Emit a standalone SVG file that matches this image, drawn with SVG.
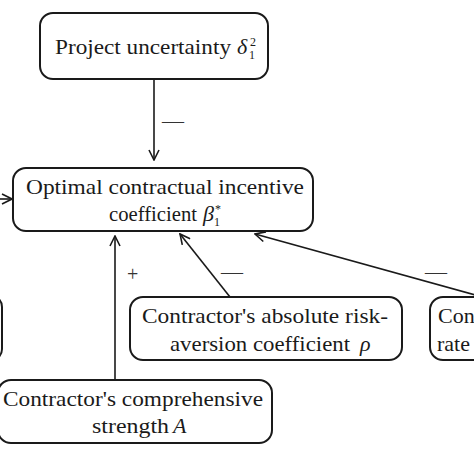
<svg xmlns="http://www.w3.org/2000/svg" width="474" height="474" viewBox="0 0 474 474">
<style>
.box{fill:#fff;stroke:#1a1a1a;stroke-width:2}
.t{font-family:"Liberation Serif",serif;font-size:22px;fill:#1a1a1a}
.m{font-style:italic}
.s{font-family:"Liberation Serif",serif;font-size:12px;fill:#1a1a1a}
.c{stroke:#1a1a1a;stroke-width:1.6;fill:none}
.lbl{font-family:"Liberation Serif",serif;font-size:20px;fill:#333}
</style>
<defs>
<marker id="ah" viewBox="0 0 12 12" refX="11" refY="6" markerWidth="12" markerHeight="12" markerUnits="userSpaceOnUse" orient="auto">
<path d="M1,1 L11,6 L1,11" fill="none" stroke="#1a1a1a" stroke-width="1.6"/>
</marker>
</defs>
<rect width="474" height="474" fill="#fff"/>
<g id="connectors">
<line class="c" x1="154" y1="79" x2="154" y2="160" marker-end="url(#ah)"/>
<line class="c" x1="0" y1="199" x2="12" y2="199" marker-end="url(#ah)"/>
<line class="c" x1="115" y1="380" x2="115" y2="236" marker-end="url(#ah)"/>
<line class="c" x1="230" y1="297" x2="180" y2="234" marker-end="url(#ah)"/>
<line class="c" x1="490" y1="299" x2="255" y2="234" marker-end="url(#ah)"/>
<text class="lbl" x="162" y="128" textLength="22" lengthAdjust="spacingAndGlyphs">—</text>
<text class="lbl" x="127" y="281">+</text>
<text class="lbl" x="221" y="279" textLength="22" lengthAdjust="spacingAndGlyphs">—</text>
<text class="lbl" x="425" y="279" textLength="22" lengthAdjust="spacingAndGlyphs">—</text>
</g>
<g id="n-project">
<rect class="box" x="40" y="13" width="228" height="66" rx="13"/>
<text class="t" x="55" y="54" textLength="176" lengthAdjust="spacingAndGlyphs">Project uncertainty</text>
<text class="t m" x="237" y="54">δ</text>
<text class="s" x="249" y="59">1</text>
<text class="s" x="250" y="46">2</text>
</g>
<g id="n-optimal">
<rect class="box" x="13" y="168" width="300" height="63" rx="13"/>
<text class="t" x="26" y="194" textLength="278" lengthAdjust="spacingAndGlyphs">Optimal contractual incentive</text>
<text class="t" x="109" y="221" textLength="88" lengthAdjust="spacingAndGlyphs">coefficient</text>
<text class="t m" x="203" y="221">β</text>
<text class="s" x="214" y="226">1</text>
<text class="s" x="215" y="213">*</text>
</g>
<g id="n-left">
<rect class="box" x="-300" y="295" width="302" height="66" rx="12"/>
</g>
<g id="n-risk">
<rect class="box" x="130" y="297" width="272" height="63" rx="13"/>
<text class="t" x="142" y="323" textLength="246" lengthAdjust="spacingAndGlyphs">Contractor's absolute risk-</text>
<text class="t" x="170" y="351" textLength="180" lengthAdjust="spacingAndGlyphs">aversion coefficient</text>
<text class="t m" x="360" y="351">ρ</text>
</g>
<g id="n-right">
<rect class="box" x="430" y="297" width="200" height="63" rx="13"/>
<text class="t" x="438" y="323">Contractor's</text>
<text class="t" x="437" y="351">rate</text>
</g>
<g id="n-strength">
<rect class="box" x="-2" y="380" width="274" height="63" rx="13"/>
<text class="t" x="3" y="406" textLength="260" lengthAdjust="spacingAndGlyphs">Contractor's comprehensive</text>
<text class="t" x="92" y="433" textLength="77" lengthAdjust="spacingAndGlyphs">strength</text>
<text class="t m" x="173" y="433">A</text>
</g>
</svg>
